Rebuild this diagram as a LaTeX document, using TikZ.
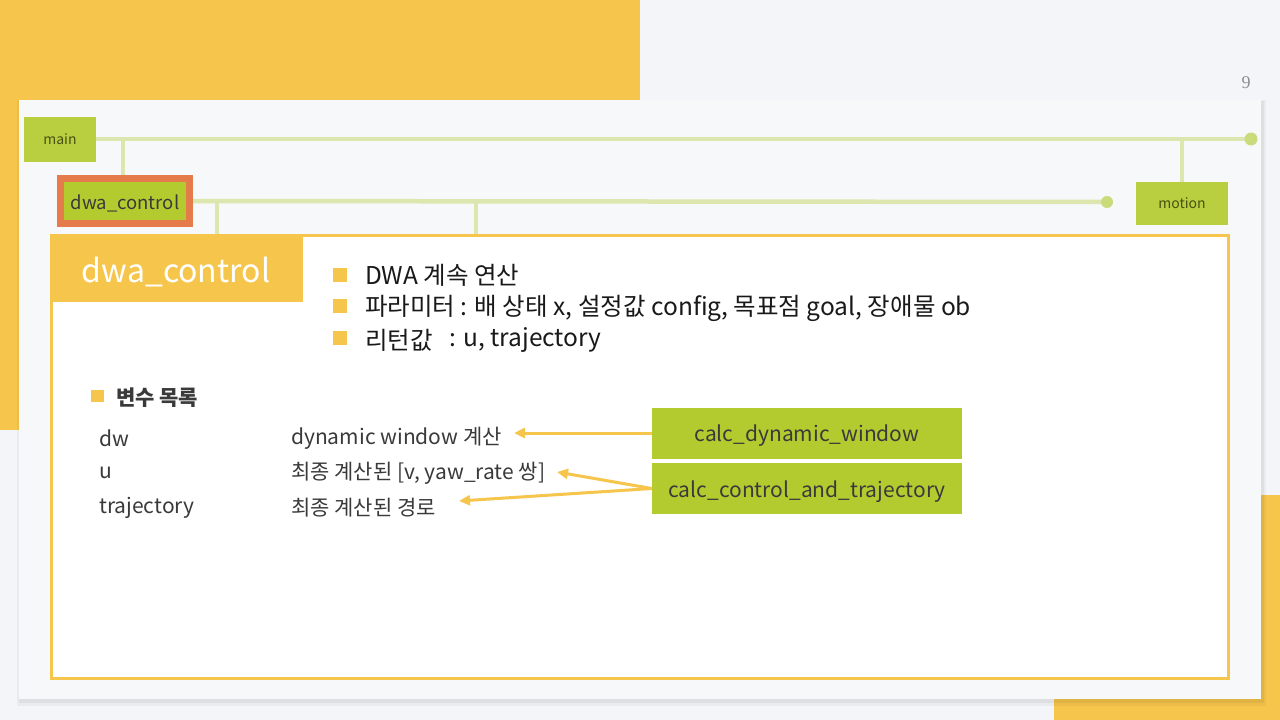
\documentclass[tikz,border=0pt]{standalone}
\usepackage{fontspec}
\setmainfont{Noto Sans CJK KR}
\newfontfamily\numfont{Liberation Serif}
\usetikzlibrary{arrows.meta}
\definecolor{ylw}{HTML}{F6C64C}
\definecolor{grn}{HTML}{B3CB2F}
\definecolor{org}{HTML}{E57A4A}
\definecolor{txt}{HTML}{3A3A3A}
\definecolor{bg}{HTML}{F4F5F8}
\definecolor{card}{HTML}{F7F8FA}
\definecolor{treeline}{HTML}{DCE6AE}
\tikzset{
  treebox/.style={fill=grn!92!white, inner sep=0pt, text=grn!40!black, font=\fontsize{14}{14}\selectfont},
  treeln/.style={draw=treeline, line width=4.5pt},
  greenbox/.style={fill=grn, inner sep=0pt, minimum width=310pt, minimum height=51pt},
  gtext/.style={text=txt, inner sep=0pt, yshift=-3pt, font=\fontsize{21}{21}\selectfont},
  bulletsq/.style={fill=ylw, inner sep=0pt, minimum width=14pt, minimum height=14pt},
  btxt/.style={anchor=west, inner sep=0pt, text=black!90, font=\fontsize{24.5}{24.5}\selectfont},
  vtxt/.style={anchor=west, inner sep=0pt, text=txt, font=\fontsize{21}{21}\selectfont},
  yarrow/.style={draw=ylw, line width=3pt, -{Triangle[length=11pt,width=10pt]}},
}
\begin{document}
\begin{tikzpicture}[x=1pt,y=-1pt]
\useasboundingbox (0,0) rectangle (1280,720);
\fill[bg] (0,0) rectangle (1280,720);
\fill[ylw] (0,0) rectangle (640,430);
\fill[ylw] (1054,495) rectangle (1280,720);
% card with shadow
\fill[black,opacity=0.04] (17,100) rectangle (1266,706);
\fill[black,opacity=0.05] (19,101) rectangle (1264,703);
\fill[card] (19,100) rectangle (1261,699);
\node[text=black!45, font=\numfont\fontsize{18}{18}\selectfont] (pnum) at (1246,83) {9};
% blurred tree
\node[treebox, minimum width=72pt, minimum height=45pt] (main) at (60,139.5) {main};
\node[treebox, minimum width=92pt, minimum height=43pt] (motion) at (1182,203.5) {motion};
\node[fill=grn, draw=org, line width=7pt, inner sep=0pt, minimum width=129pt, minimum height=45pt,
  label={[text=txt, inner sep=0pt, yshift=-2pt, font=\fontsize{18.5}{18.5}\selectfont]center:dwa\_control}] (dwa) at (125,201) {};
\coordinate (e1) at (1251,139);
\coordinate (e2) at (1107,202);
\coordinate (t1) at (217,234);
\coordinate (t2) at (476,234);
\draw[treeln] (main.east |- 0,139) -- (e1);
\fill[treeline!60!grn] (e1) circle (6.5pt);
\draw[treeln] (123,139) -- (dwa.north -| 123,0);
\draw[treeln] (1182,139) -- (motion.north);
\draw[treeln] (dwa.east) -- (e2);
\fill[treeline!60!grn] (e2) circle (6pt);
\draw[treeln] (217,202) -- (t1);
\draw[treeln] (476,202) -- (t2);
% content frame
\draw[ylw, line width=3pt, fill=white] (51.5,235.5) rectangle (1228.5,678.5);
\fill[ylw] (50,234) rectangle (303,302);
\node[text=white, inner sep=0pt, font=\fontsize{32}{32}\selectfont] (title) at (176,272) {dwa\_control};
% bullets
\node[bulletsq] (b1) at (340,275) {};
\node[bulletsq] (b2) at (340,306) {};
\node[bulletsq] (b3) at (340,338) {};
\node[btxt] (l1) at (365,275) {DWA 계속 연산};
\node[btxt] (l2) at (365,308) {파라미터 : 배 상태 x, 설정값 config, 목표점 goal, 장애물 ob};
\node[btxt] (l3a) at (365,340) {리턴값};
\node[btxt] (l3b) at (449,340) {: u, trajectory};
% variable list
\node[bulletsq, minimum width=13pt, minimum height=12pt] (b4) at (97,396) {};
\node[vtxt, font=\bfseries\fontsize{21}{21}\selectfont] (vh) at (116,398) {변수 목록};
\node[vtxt] (v1) at (99,438) {dw};
\node[vtxt] (v2) at (99,473) {u};
\node[vtxt] (v3) at (99,508) {trajectory};
\node[vtxt] (d1) at (291,438) {dynamic window 계산};
\node[vtxt] (d2) at (291,473) {최종 계산된 [v, yaw\_rate 쌍]};
\node[vtxt] (d3) at (291,508) {최종 계산된 경로};
% green boxes
\node[greenbox, label={[gtext]center:calc\_dynamic\_window}] (g1) at (807,433) {};
\node[greenbox, label={[gtext]center:calc\_control\_and\_trajectory}] (g2) at (807,488.5) {};
\coordinate (a1) at (514,433);
\coordinate (a2) at (557,472);
\coordinate (a3) at (459,501);
\draw[yarrow] (g1.west) -- (a1);
\draw[yarrow] (g2.west) -- (a2);
\draw[yarrow] (g2.west) -- (a3);
\end{tikzpicture}
\end{document}
